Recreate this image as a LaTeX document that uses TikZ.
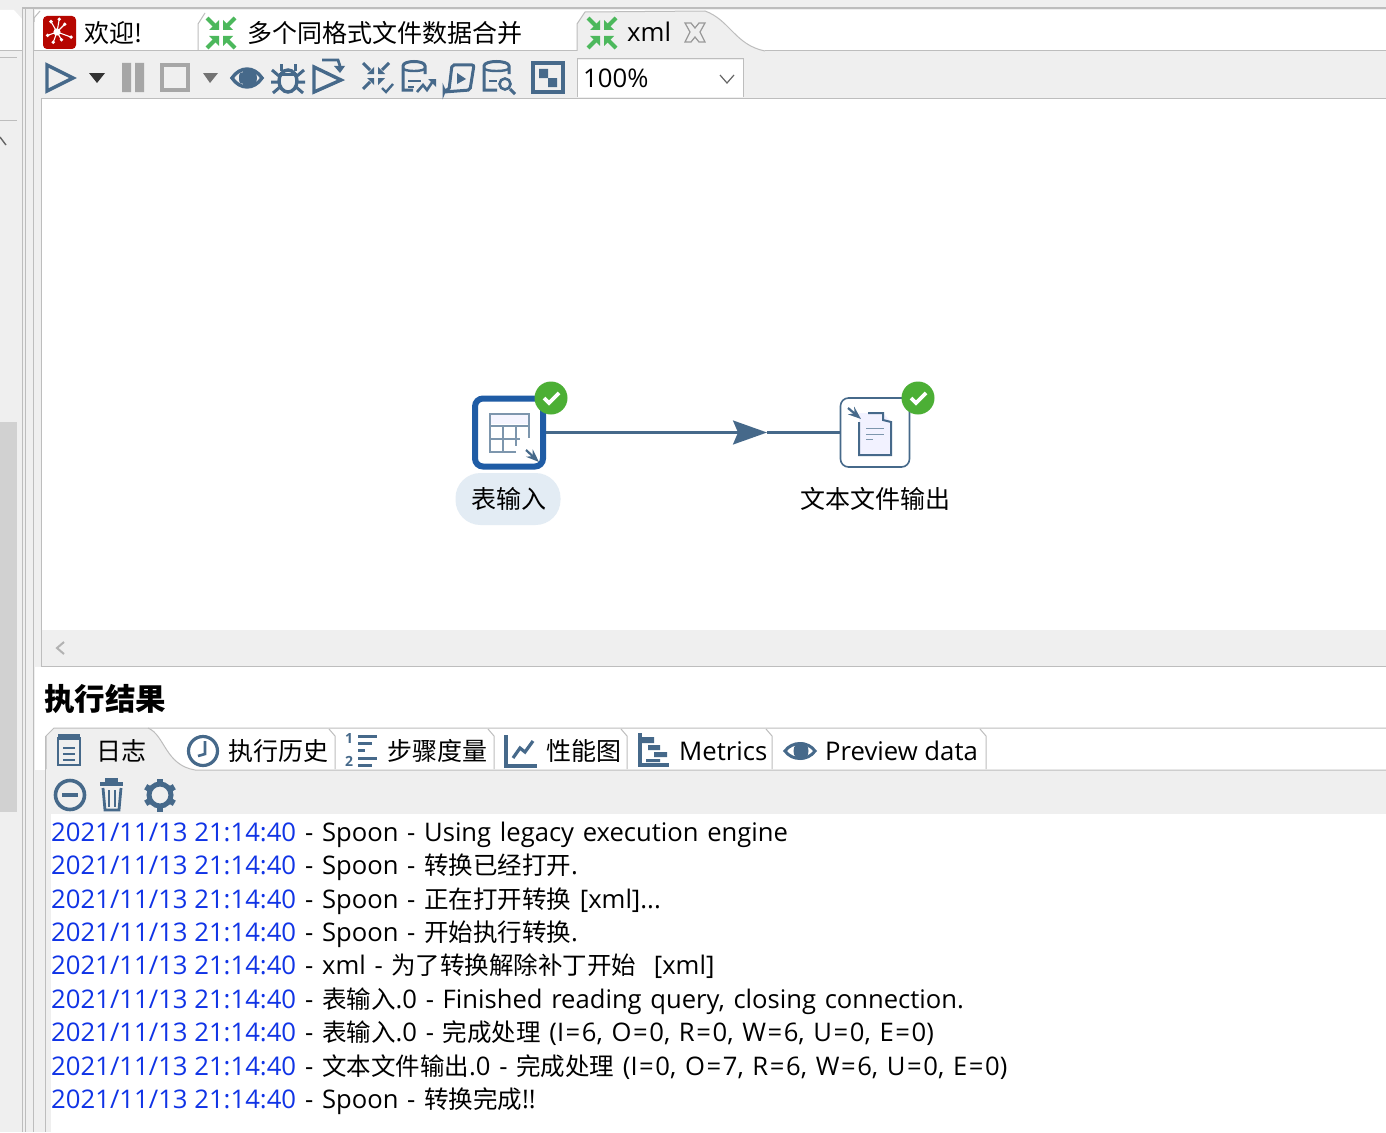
\documentclass[tikz,border=0pt]{standalone}
\usepackage{fontspec}
\setmainfont{Open Sans}
\newfontfamily\cjk{Noto Sans CJK SC}
\usetikzlibrary{arrows.meta, positioning}

\definecolor{steel}{HTML}{46698A}
\definecolor{panel}{HTML}{EFEFEF}
\definecolor{edge}{HTML}{BDBDBD}
\definecolor{okgreen}{HTML}{4CAF35}
\definecolor{tabgreen}{HTML}{4CB85C}
\definecolor{stampblue}{HTML}{1034E6}
\definecolor{selectblue}{HTML}{1F5CA5}
\definecolor{pillblue}{HTML}{E3ECF4}
\newcommand\eqs{\kern1.6pt=\kern1.6pt}
\newcommand\zhlog{\cjk\fontsize{24.5}{26}\selectfont}

\begin{document}
\begin{tikzpicture}[x=1pt,y=-1pt,>=Stealth,
  label node/.style={font=\cjk\fontsize{25}{25}\selectfont,inner sep=0pt,anchor=base west},
  tab text/.style={font=\fontsize{25.7}{26}\selectfont,inner sep=0pt,anchor=base west},
  step icon/.style={draw=steel,line width=1.6pt,rounded corners=8pt,minimum size=70pt,inner sep=0pt,fill=white},
  ok badge/.style={circle,fill=okgreen,minimum size=33pt,inner sep=0pt},
  tool/.style={draw=steel,line width=3.4pt},
  panel line/.style={draw=edge,line width=1pt}]
  \useasboundingbox (0,0) rectangle (1386,1132);
  % window background
  \fill[panel] (0,0) rectangle (1386,1132);
  \fill[white] (0,10) -- (14,10) -- (22,19) -- (22,50) -- (0,50) -- cycle;
  \fill[white] (35,10) rectangle (1386,51);
  \fill[panel] (577,51) -- (577,24) -- (585,12) -- (705,11) .. controls (730,20) and (735,45) .. (765,51) -- cycle;
  \fill[white] (41,98) rectangle (1386,630);
  \fill[white] (35,667) rectangle (1386,770);
  \fill[panel] (46,770) -- (46,736) -- (54,728) -- (148,728) .. controls (165,735) and (165,765) .. (195,770) -- cycle;
  \fill[white] (51,814) rectangle (1386,1132);
  \fill[black!18] (0,422) rectangle (17,812);
  \draw[panel line] (0,51) -- (22,51) (0,58) -- (17,58) (0,120) -- (17,120);
  \draw[black!60,line width=1.4pt] (0,137) -- (6,145);
  \draw[panel line] (22,8) -- (22,1132) (25,8) -- (25,1132) (33,8) -- (33,1132) (41,98) -- (41,666) (45,736) -- (45,1132);
  \draw[edge,line width=2pt] (22,8.5) -- (1386,8.5);
  \draw[panel line] (33,51) -- (577,51) (765,51) -- (1386,51);
  \draw[panel line] (41,98) -- (1386,98) (41,666) -- (1386,666);
  \draw[panel line] (46,769) -- (46,736) -- (54,728) -- (1386,728) (195,770) -- (1386,770);
  \draw[panel line] (577,97) -- (577,59) -- (743,59) -- (743,97);
  % top tabs
  \draw[panel line] (198,51) -- (198,24) -- (205,13);
  \draw[panel line] (577,51) -- (577,24) -- (585,12) -- (705,11) .. controls (730,20) and (735,45) .. (765,51);
  \draw[panel line] (34,22) -- (34,18) -- (40,11);
  \fill[red!70!black!95!orange,rounded corners=4pt] (43,16) rectangle (76,49);
  \fill[white] (57,32) circle (3.6pt);
  \foreach \a/\r in {-20/15,-60/9,45/11,80/13,120/12,200/10,250/11} {
    \draw[white,line width=1.1pt] (57,32) -- ++(\a:\r pt);
    \fill[white] (57,32) ++(\a:\r pt) circle (1.9pt);
  }
  \node[label node] (welcome) at (84,43) {欢迎!};
  \node[label node] (mergetab) at (247,43) {多个同格式文件数据合并};
  \node[tab text] (xmltab) at (627,42) {xml};
  \foreach \cx in {221,602} {
    \foreach \sx/\sy in {-1/-1,1/-1,-1/1,1/1} {
      \draw[tabgreen,line width=4pt] (\cx+\sx*14,33+\sy*15) -- (\cx+\sx*6,33+\sy*7);
      \fill[tabgreen] (\cx+\sx*2,33+\sy*3) -- (\cx+\sx*12,33+\sy*3) -- (\cx+\sx*2,33+\sy*13) -- cycle;
    }
  }
  \draw[black!40,line width=1.2pt] (685,23) -- (691,23) -- (695,28) -- (699,23) -- (705,23) -- (700,32) -- (705,42) -- (699,42) -- (695,37) -- (691,42) -- (685,42) -- (690,32) -- cycle;
  % toolbar
  \fill[white] (578,60) rectangle (743,97);
  \node[tab text] (zoomvalue) at (583,87) {100\%};
  \draw[black!60,line width=1.2pt] (720,75) -- (727,83) -- (734,75);
  \draw[tool,line join=miter] (47,65) -- (73,78) -- (47,91) -- cycle;
  \fill[black!80] (89,73) -- (105,73) -- (97,83) -- cycle;
  \fill[black!35] (122,63) rectangle (131,92) (135,63) rectangle (144,92);
  \draw[black!35,line width=3.4pt] (162,65) rectangle (188,90);
  \fill[black!55] (203,73) -- (218,73) -- (210,83) -- cycle;
  \draw[tool] (232,78) .. controls (240,66) and (254,66) .. (262,78) .. controls (254,90) and (240,90) .. (232,78) -- cycle;
  \fill[steel] (249,78) ellipse (8pt and 10pt);
  \fill[steel] (241,78) ellipse (2pt and 6pt);
  % bug
  \draw[tool] (288,81) ellipse (9pt and 11pt);
  \draw[steel,line width=3pt] (281,71) -- (281,64) (295,71) -- (295,64) (279,74) -- (297,74);
  \draw[steel,line width=3pt] (272,70) -- (279,76) (304,70) -- (297,76) (271,82) -- (279,82) (305,82) -- (297,82) (273,93) -- (280,87) (303,93) -- (296,87);
  % debug run
  \draw[tool,line join=miter] (314,67) -- (341,80) -- (314,92) -- cycle;
  \draw[steel,line width=2.8pt] (322,60) -- (338,60) -- (340,66);
  \fill[steel] (334,66) -- (345,66) -- (340,73) -- cycle;
  % check merge
  \foreach \sx/\sy in {-1/-1,1/-1,-1/1} {
    \draw[steel,line width=3pt] (376+\sx*13,76+\sy*13) -- (376+\sx*6,76+\sy*6);
    \fill[steel] (376+\sx*2,76+\sy*2) -- (376+\sx*9,76+\sy*2) -- (376+\sx*2,76+\sy*9) -- cycle;
  }
  \fill[steel] (378,78) -- (385,78) -- (378,85) -- cycle;
  \draw[steel,line width=2.4pt] (382,88) -- (386,92) -- (393,84);
  % database arrow
  \draw[steel,line width=3pt] (425,74) -- (425,66) .. controls (425,60) and (403,60) .. (403,66) -- (403,90) -- (413,90);
  \draw[steel,line width=2.4pt] (403,68) .. controls (403,72) and (425,72) .. (425,68);
  \draw[steel,line width=2.4pt] (408,81) -- (421,81) (408,87) -- (414,87);
  \draw[steel,line width=2.6pt] (417,92) -- (423,85) -- (427,90) -- (433,81);
  \fill[steel] (428,79) -- (436,79) -- (436,87) -- cycle;
  % script
  \draw[steel,line width=3pt,rounded corners=2pt] (444,90) -- (449,90) -- (452,65) -- (474,65) -- (470,90) -- (444,92) -- cycle;
  \fill[steel] (457,73) -- (466,79) -- (457,84) -- cycle;
  % database search
  \draw[steel,line width=3pt] (509,74) -- (509,66) .. controls (509,60) and (484,60) .. (484,66) -- (484,90) -- (497,90);
  \draw[steel,line width=2.4pt] (484,68) .. controls (484,72) and (509,72) .. (509,68);
  \draw[steel,line width=2.4pt] (489,81) -- (497,81);
  \draw[steel,line width=2.6pt] (505,84) circle (5.5pt);
  \draw[steel,line width=3pt] (510,89) -- (515,94);
  \draw[tool] (533,63) rectangle (563,92);
  \fill[steel] (539,69) rectangle (548,78) (548,78) rectangle (557,87);
  % steps on the canvas
  \node[step icon,draw=selectblue,line width=6pt,minimum size=68pt] (tableinput) at (509,432.5) {};
  \node[step icon,minimum size=69pt] (textoutput) at (875,432.5) {};
  \coordinate (hoptip) at (767,432.5);
  \draw[steel,line width=2.2pt,-{Stealth[length=34pt,width=24pt,inset=5pt]}] (tableinput) -- (hoptip);
  \draw[steel,line width=2.2pt] (hoptip) -- (textoutput);
  \node[ok badge] (tableok) at (551,398) {};
  \node[ok badge] (textok) at (918,398) {};
  \draw[white,line width=3.8pt] (544,398) -- (549,403) -- (559,393);
  \draw[white,line width=3.8pt] (911,398) -- (916,403) -- (926,393);
  % table glyph
  \draw[steel!70,line width=2.2pt] (516,452) -- (490,452) -- (490,414) -- (529,414) -- (529,438);
  \fill[blue!4] (491,415) rectangle (528,424);
  \draw[steel!70,line width=1.5pt] (490,426) -- (529,426) (490,439) -- (520,439) (503,426) -- (503,452) (516,426) -- (516,446);
  \draw[steel,line width=2.2pt,->] (526,450) -- (539,462);
  % file glyph
  \fill[blue!5] (859,413) -- (883,413) -- (891,422) -- (891,455) -- (859,455) -- cycle;
  \draw[steel,line width=2pt] (859,422) -- (859,455) -- (891,455) -- (891,422) -- (883,420) -- (883,413) -- (868,413);
  \draw[steel!70,line width=1pt] (866,428) -- (884,428) (866,434) -- (884,434) (866,439) -- (873,439);
  \draw[steel,line width=2.2pt,->] (848,408) -- (861,419);
  \node[fill=pillblue,rounded corners=25pt,minimum width=105pt,minimum height=52pt,inner sep=0pt] (tablepill) at (508,499) {};
  \node[label node,anchor=base] (tablelabel) at (509,508) {表输入};
  \node[label node,anchor=base] (textlabel) at (875,508) {文本文件输出};
  % scroll arrow
  \draw[black!30,line width=2pt] (64,642) -- (57,648) -- (64,654);
  % results panel
  \node[label node,font=\cjk\bfseries\fontsize{30.5}{30}\selectfont] (resultstitle) at (44,710) {执行结果};
  \node[label node] (logtab) at (96,760) {日志};
  \node[label node] (historytab) at (228,760) {执行历史};
  \node[label node] (stepstab) at (387,760) {步骤度量};
  \node[label node] (perftab) at (546,760) {性能图};
  \node[tab text] (metricstab) at (679,760) {Metrics};
  \node[tab text] (previewtab) at (825,760) {Preview data};
  \draw[panel line] (148,728) .. controls (165,735) and (165,765) .. (195,770);
  \foreach \tx in {335,494,627,772,986} \draw[panel line] (\tx,769) -- (\tx,736) -- (\tx-6,729);
  % tab icons
  \draw[steel,line width=2.8pt] (58,738) rectangle (80,765);
  \draw[steel,line width=2.4pt] (63,748) -- (75,748) (63,754) -- (75,754) (63,760) -- (75,760);
  \fill[steel] (58,734) rectangle (80,740);
  \draw[steel,line width=3.2pt] (203,751) circle (14.5pt);
  \draw[steel,line width=2.6pt] (205,741) -- (205,754) -- (198,756);
  \node[inner sep=0pt,font=\bfseries\fontsize{14}{14}\selectfont,text=steel] (num1) at (349,738) {1};
  \node[inner sep=0pt,font=\bfseries\fontsize{14}{14}\selectfont,text=steel] (num2) at (349,761) {2};
  \draw[steel,line width=3pt] (358,736) -- (377,736) (358,743) -- (372,743) (358,750) -- (365,750) (358,758) -- (377,758) (358,765) -- (372,765);
  \draw[steel,line width=3.4pt] (506,735) -- (506,766) -- (537,766);
  \draw[steel,line width=3.2pt] (513,758) -- (520,748) -- (525,752) -- (533,741);
  \draw[steel,line width=3.4pt] (640,733) -- (640,765) -- (669,765);
  \fill[steel] (642,737) rectangle (654,743) (648,745) rectangle (660,750) (654,752) rectangle (667,757) (646,759) rectangle (660,762);
  \draw[steel,line width=3pt] (785,751) .. controls (792,741) and (808,741) .. (815,751) .. controls (808,761) and (792,761) .. (785,751) -- cycle;
  \fill[steel] (801,751) ellipse (7.5pt and 9pt);
  % log toolbar
  \draw[steel,line width=3.6pt] (70,795) circle (14.5pt);
  \draw[steel,line width=4pt] (62,795) -- (78,795);
  \draw[steel,line width=3.4pt] (100,784) -- (123,784);
  \fill[steel] (105,778) rectangle (118,782);
  \draw[steel,line width=2.8pt] (103,788) -- (105,810) -- (119,810) -- (121,788);
  \draw[steel,line width=2.6pt] (109,790) -- (109,807) (115,790) -- (115,807);
  \draw[steel,line width=5pt] (160,795) circle (11pt);
  \foreach \a in {30,90,...,330} \draw[steel,line width=6pt] (160,795) ++(\a:12pt) -- ++(\a:4.5pt);
  % log lines
  \foreach \row/\txt [count=\i] in {
    0/{Spoon - Using legacy execution engine},
    1/{Spoon - {\zhlog 转换已经打开}.},
    2/{Spoon - {\zhlog 正在打开转换} [xml]...},
    3/{Spoon - {\zhlog 开始执行转换}.},
    4/{xml - {\zhlog 为了转换解除补丁开始}\ \ [xml]},
    5/{{\zhlog 表输入}.0 - Finished reading query, closing connection.},
    6/{{\zhlog 表输入}.0 - {\zhlog 完成处理} (I\eqs6, O\eqs0, R\eqs0, W\eqs6, U\eqs0, E\eqs0)},
    7/{{\zhlog 文本文件输出}.0 - {\zhlog 完成处理} (I\eqs0, O\eqs7, R\eqs6, W\eqs6, U\eqs0, E\eqs0)},
    8/{Spoon - {\zhlog 转换完成}!!}} {
    \node[tab text,text=stampblue] (stamp\i) at (51,841.5+\row*33.36) {2021/11/13 21:14:40};
    \node[tab text,font=\fontsize{25.6}{26}\selectfont] (msg\i) at (305,841.5+\row*33.36) {\spaceskip=8.7pt\relax - \txt};
  }
\end{tikzpicture}
\end{document}
